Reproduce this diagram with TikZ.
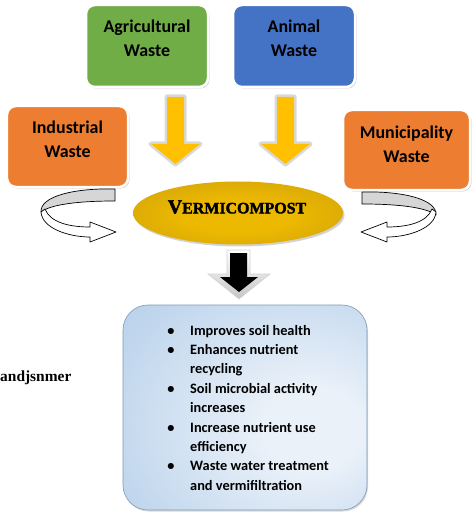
\documentclass[tikz,border=0pt]{standalone}
\usepackage{fontspec}
\setmainfont{Carlito}
\newfontfamily\serifbold{Liberation Serif}
\newfontfamily\vermfont[BoldFeatures={FakeBold=2}]{Liberation Serif}
\usetikzlibrary{shapes.geometric,shadows,calc}
\definecolor{agrigreen}{HTML}{70AD47}
\definecolor{animalblue}{HTML}{4472C4}
\definecolor{wasteorange}{HTML}{ED7D31}
\definecolor{arrowyellow}{HTML}{FFC000}
\definecolor{goldin}{HTML}{EDB900}
\definecolor{goldmid}{HTML}{D8A808}
\definecolor{goldedge}{HTML}{C69A0C}
\definecolor{goldout}{HTML}{A5850F}
\definecolor{bluein}{HTML}{EAF1F9}
\definecolor{bluemid}{HTML}{C3D8EE}
\definecolor{blueout}{HTML}{9DC0E4}
\definecolor{ribbongray}{HTML}{D6D6D6}
\pgfdeclareradialshading{goldshade}{\pgfpoint{0bp}{-3bp}}{color(0bp)=(goldin); color(12bp)=(goldin); color(30bp)=(goldmid); color(44bp)=(goldedge); color(50bp)=(goldout)}
\pgfdeclareradialshading{blueshade}{\pgfpoint{16bp}{-6bp}}{color(0bp)=(bluein); color(10bp)=(bluein); color(35bp)=(bluemid); color(60bp)=(blueout); color(75bp)=(blueout)}
\begin{document}
\begin{tikzpicture}[x=1bp,y=-1bp,
  wastebox/.style={rectangle, rounded corners=9bp, draw=white, line width=2.5bp,
    drop shadow={shadow xshift=1.5bp, shadow yshift=-1.5bp, opacity=0.35}},
  boxlabel/.style={align=center, font=\bfseries\fontsize{18}{24}\selectfont, text=black},
  listline/.style={anchor=base west, font=\bfseries\fontsize{14.4}{19.4}\selectfont, inner sep=0pt},
  bulletmark/.style={anchor=base, font=\bfseries\fontsize{14.4}{19.4}\selectfont, inner sep=0pt},
  fatarrow/.style={fill=arrowyellow, preaction={draw=gray!30, line width=5bp, line join=round}},
  ribbon/.style={draw=black, line width=0.7bp, line join=round}
]
\useasboundingbox (0,0) rectangle (474,512);
\fill[white] (0,0) rectangle (474,512);

% source boxes
\node[wastebox, fill=agrigreen, minimum width=122bp, minimum height=82bp] (agri) at (147,46) {};
\node[boxlabel] (agrit) at (147,38) {Agricultural\\Waste};
\node[wastebox, fill=animalblue, minimum width=122bp, minimum height=82bp] (anim) at (294,46) {};
\node[boxlabel] (animt) at (294,38) {Animal\\Waste};
\node[wastebox, fill=wasteorange, minimum width=121bp, minimum height=81bp] (indu) at (67.5,146.5) {};
\node[boxlabel] (indut) at (67.5,139) {Industrial\\Waste};
\node[wastebox, fill=wasteorange, minimum width=127bp, minimum height=80bp] (muni) at (406.5,150) {};
\node[boxlabel] (munit) at (406.5,144) {Municipality\\Waste};

% yellow down arrows
\path[fatarrow] (167,97) -- (184,97) -- (184,144) -- (200,144) -- (175.5,164) -- (151,144) -- (167,144) -- cycle;
\path[fatarrow] (277,97) -- (294,97) -- (294,144) -- (310,144) -- (285.5,164) -- (261,144) -- (277,144) -- cycle;

% vermicompost ellipse
\node[ellipse, minimum width=210bp, minimum height=63bp, shading=goldshade,
  drop shadow={shadow xshift=1.5bp, shadow yshift=-2bp, opacity=0.35}] (verm) at (238,213) {};
\node[font=\vermfont\bfseries\fontsize{16}{16}\selectfont, inner sep=0pt] (vermt) at (237,207) {{\fontsize{20}{20}\selectfont V}ERMICOMPOST};

% left curved ribbon arrow
\filldraw[ribbon, fill=ribbongray] (115,189) .. controls (75,188) and (40,196) .. (41,212)
  .. controls (50,205) and (75,201) .. (115,201) -- cycle;
\filldraw[ribbon, fill=white] (41,212) .. controls (42,228) and (68,237) .. (90,237)
  -- (90,242) -- (116,232) -- (90,222) -- (90,227)
  .. controls (68,227) and (50,222) .. (45,209) -- cycle;

% right curved ribbon arrow (mirror)
\begin{scope}[xshift=477bp, xscale=-1, yshift=-3bp]
\filldraw[ribbon, fill=ribbongray] (115,189) .. controls (75,188) and (40,196) .. (41,212)
  .. controls (50,205) and (75,201) .. (115,201) -- cycle;
\end{scope}
\begin{scope}[xshift=477bp, xscale=-1]
\filldraw[ribbon, fill=white] (41,212) .. controls (42,228) and (68,237) .. (90,237)
  -- (90,242) -- (116,232) -- (90,222) -- (90,227)
  .. controls (68,227) and (50,222) .. (45,209) -- cycle;
\end{scope}

% black down arrow
\path[top color=white, bottom color=gray!45, draw=gray!35, line width=0.6bp]
  (227,250) -- (250,250) -- (250,274) -- (270,274) -- (239,299) -- (208,274) -- (227,274) -- cycle;
\fill[black] (230,253) -- (247,253) -- (247,277) -- (258,277) -- (239,292) -- (220,277) -- (230,277) -- cycle;

% benefits box
\node[rectangle, rounded corners=25bp, minimum width=244bp, minimum height=205bp,
  shading=blueshade, draw=blueout!80!black, line width=0.6bp,
  drop shadow={shadow xshift=1bp, shadow yshift=-1.5bp, opacity=0.3}] (bene) at (245,407.5) {};
\foreach \t [count=\i] in {Improves soil health, Enhances nutrient, recycling,
  Soil microbial activity, increases, Increase nutrient use, efficiency,
  Waste water treatment, and vermifiltration}
  \node[listline] (line\i) at (190,{335+19.4*(\i-1)}) {\t};
\foreach \i in {1,2,4,6,8}
  \node[bulletmark] (bul\i) at (171,{335+19.4*(\i-1)}) {\textbullet};

% stray label
\node[anchor=base west, inner sep=0pt, font=\serifbold\bfseries\fontsize{15.5}{15.5}\selectfont] (stray) at (0,381) {andjsnmer};
\end{tikzpicture}
\end{document}
